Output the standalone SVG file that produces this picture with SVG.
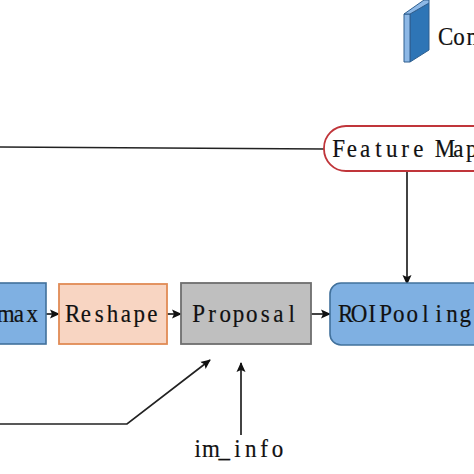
<svg xmlns="http://www.w3.org/2000/svg" width="474" height="474" viewBox="0 0 474 474">
<defs>
<marker id="a" markerWidth="12" markerHeight="12" refX="9" refY="5" orient="auto" markerUnits="userSpaceOnUse"><path d="M0 0.5L10 5L0 9.5L2 5Z" fill="#111"/></marker>
</defs>
<style>
text{font-family:"Liberation Serif",serif;font-size:25px;fill:#111;text-anchor:middle;stroke:#111;stroke-width:.2}
.c{fill:none;stroke:#222;stroke-width:1.7}
.b{fill:#7fb0e2;stroke:#41719c;stroke-width:1.6}
</style>
<rect width="474" height="474" fill="#fff"/>
<g id="legend-icon">
<path d="M410 14L429 3V50L410 62Z" fill="#2e75b6" stroke="#2f5f8f" stroke-width="1"/>
<path d="M404 14H410V62H404Z" fill="#8db8e6" stroke="#2f5f8f" stroke-width="1"/>
<path d="M404 14H410L429 3V0H424Z" fill="#8db8e6" stroke="#2f5f8f" stroke-width="1"/>
<text transform="translate(439,45) scale(.92,1)" x="7.2 21.7 36.1">Con</text>
</g>
<g id="connectors">
<path class="c" d="M0 147L324 149"/>
<path class="c" d="M407 172V284" marker-end="url(#a)"/>
<path class="c" d="M46 314H59" marker-end="url(#a)"/>
<path class="c" d="M167 314H181" marker-end="url(#a)"/>
<path class="c" d="M311 314H330" marker-end="url(#a)"/>
<path class="c" d="M0 424H127L210 360" marker-end="url(#a)"/>
<path class="c" d="M241 435V363" marker-end="url(#a)"/>
</g>
<g id="softmax"><rect class="b" x="-10" y="283" width="56" height="61"/><text transform="translate(-1,322) scale(.92,1)" x="7.2 21.7 36.1">max</text></g>
<g id="reshape"><rect x="59" y="284" width="108" height="60" fill="#f8d5c2" stroke="#e08b55" stroke-width="1.8"/><text transform="translate(66,322) scale(.92,1)" x="7.2 21.7 36.1 50.6 65 79.5 94">Reshape</text></g>
<g id="proposal"><rect x="181" y="283" width="130" height="61" fill="#bfbfbf" stroke="#6e6e6e" stroke-width="1.8"/><text transform="translate(192,322) scale(.92,1)" x="7.2 21.7 36.1 50.6 65 79.5 94 108.4">Proposal</text></g>
<g id="roipooling"><rect class="b" x="330" y="283" width="160" height="62" rx="11"/><text transform="translate(339,322) scale(.92,1)" x="7.2 21.7 36.1 50.6 65 79.5 94 108.4 122.9 137.3">ROIPooling</text></g>
<g id="feature-map"><rect x="324" y="126" width="180" height="45" rx="22" fill="#fff" stroke="#c0353a" stroke-width="1.8"/><text transform="translate(332,157) scale(.92,1)" x="7.2 21.7 36.1 50.6 65 79.5 94 108.4 122.9 137.3 151.8">Feature Map</text></g>
<g id="im-info"><text transform="translate(191,457) scale(.92,1)" x="7.2 21.7 36.1 50.6 65 79.5 94">im_info</text></g>
</svg>
